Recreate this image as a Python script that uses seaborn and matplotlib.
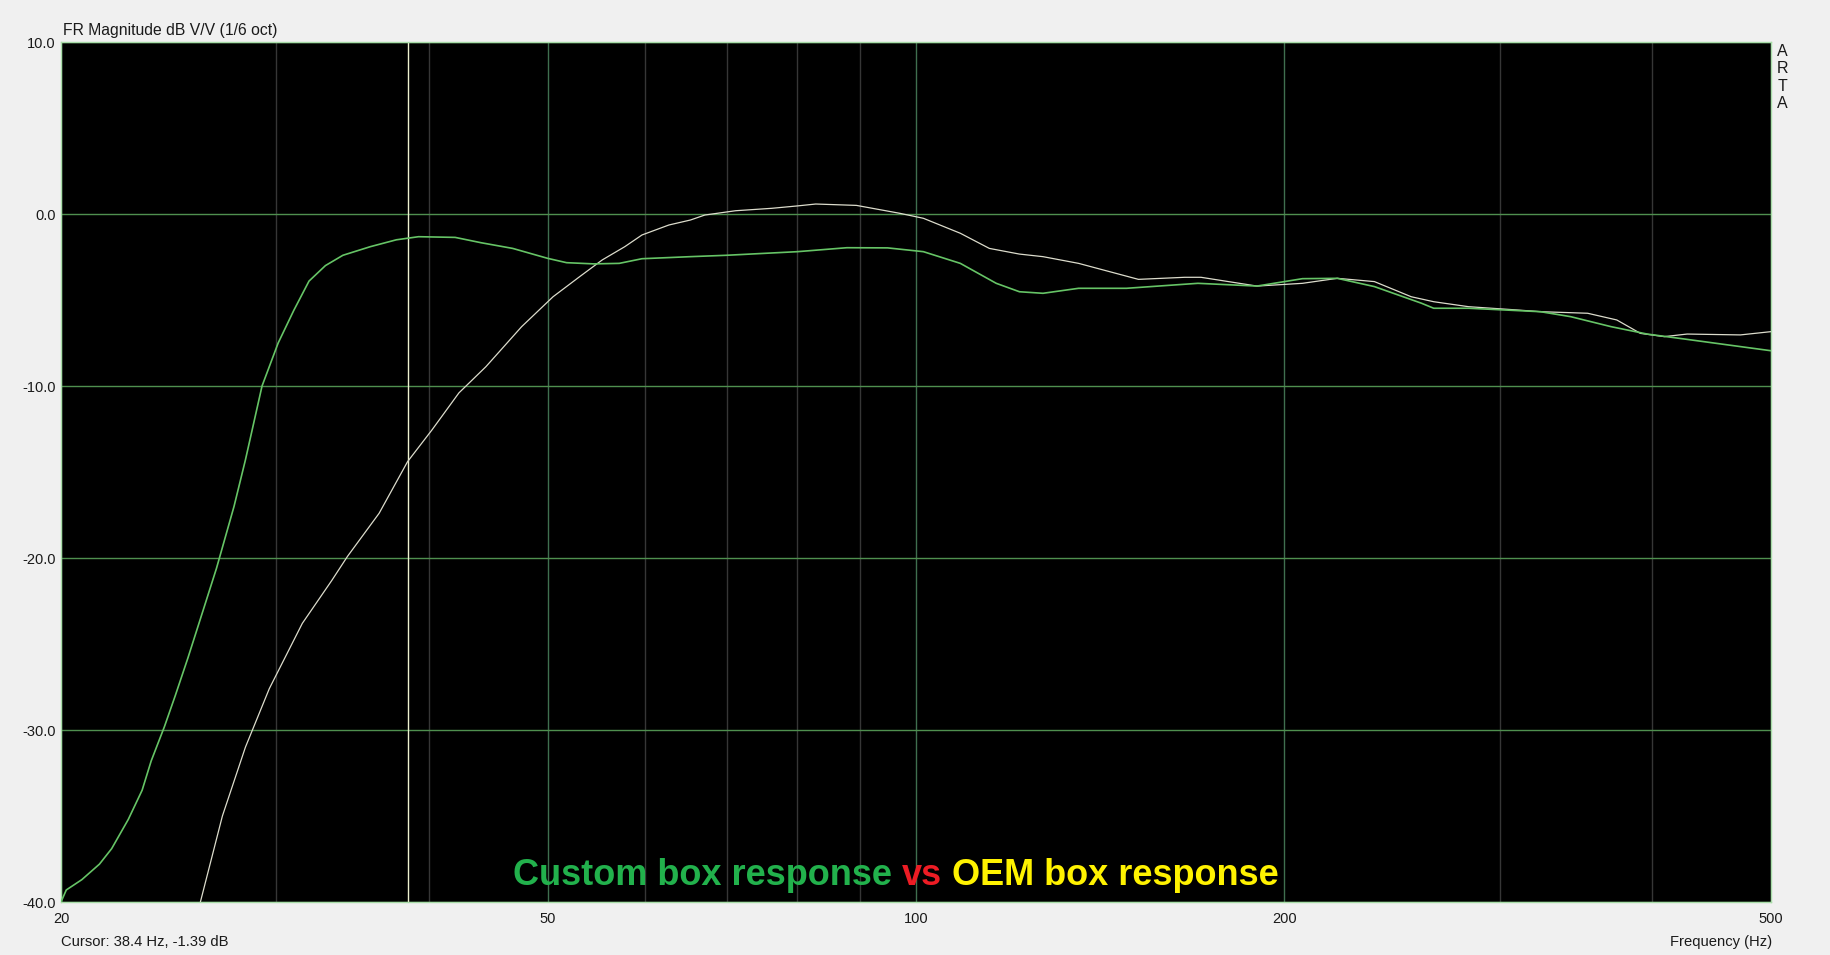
import matplotlib
matplotlib.use("Agg")
import matplotlib.pyplot as plt
import seaborn as sns
from matplotlib.ticker import FixedLocator, FixedFormatter, NullFormatter

# ------------------------------
# data (1/6 oct smoothed)
# ------------------------------
custom_freq = [20, 20.2, 20.8, 21.5, 22.0, 22.7, 23.3, 23.7, 24.3, 24.8, 25.4, 26.2, 26.8,
               27.7, 28.3, 29.2, 30.1, 31.0, 31.9, 32.9, 34.0, 35.8, 37.6, 39.2, 42.0,
               44.1, 46.8, 50.0, 51.8, 54.5, 57.2, 59.7, 65.4, 70.0, 80.0, 87.8, 94.8,
               101.4, 108.7, 116.3, 121.5, 127, 135.8, 148.6, 170, 190, 207, 221, 237,
               259, 265, 283, 324, 343, 370, 396, 427, 462, 500]
custom_db = [-40.0, -39.3, -38.7, -37.8, -36.9, -35.2, -33.5, -31.8, -29.8, -28.0, -25.8, -22.8, -20.6,
             -17.0, -14.3, -10.0, -7.5, -5.6, -3.9, -3.0, -2.4, -1.9, -1.5, -1.32, -1.36,
             -1.67, -2.0, -2.58, -2.83, -2.9, -2.87, -2.6, -2.48, -2.4, -2.19, -1.96, -1.97,
             -2.19, -2.87, -4.03, -4.52, -4.61, -4.32, -4.32, -4.03, -4.19, -3.76, -3.74, -4.22,
             -5.19, -5.48, -5.48, -5.68, -5.97, -6.55, -6.98, -7.29, -7.62, -7.95]

oem_freq = [26.0, 27.1, 28.3, 29.6, 31.5, 33.3, 34.3, 36.4, 38.4, 40.2, 42.3, 44.5, 47.6,
            50.5, 53.1, 55.4, 57.8, 59.7, 62.8, 65.4, 67.2, 71.2, 76.2, 80, 82.8, 89.4, 97,
            101.4, 108.7, 114.8, 121.5, 127, 135.8, 152, 165.8, 171, 190, 207, 221, 237,
            254, 265, 283, 310, 324, 354, 374, 391, 409, 427, 472, 500]
oem_db = [-40.0, -35.0, -31.0, -27.6, -23.8, -21.3, -19.9, -17.4, -14.4, -12.56, -10.4, -8.88, -6.55,
          -4.81, -3.64, -2.67, -1.90, -1.22, -0.64, -0.35, -0.06, 0.19, 0.33, 0.47, 0.58, 0.5, 0.04,
          -0.25, -1.12, -2.0, -2.33, -2.48, -2.87, -3.8, -3.68, -3.68, -4.19, -4.03, -3.74, -3.93,
          -4.81, -5.1, -5.39, -5.58, -5.68, -5.77, -6.16, -6.94, -7.13, -6.98, -7.03, -6.84]

cursor_freq = 38.4
cursor_db = -1.39
x_major = [20, 50, 100, 200, 500]
x_minor = [30, 40, 60, 70, 80, 90, 300, 400]
y_ticks = [10, 0, -10, -20, -30, -40]

# ------------------------------
# figure
# ------------------------------
sns.set_style("dark")
plt.rcParams['font.family'] = ['Liberation Sans', 'DejaVu Sans']

W, H = 1830, 955
fig = plt.figure(figsize=(W / 100, H / 100), dpi=100, facecolor='#f0f0f0')
ax = fig.add_axes([61 / W, 53 / H, 1710 / W, 860 / H])
ax.set_facecolor('black')

ax.set_xscale('log')
ax.set_xlim(20, 500)
ax.set_ylim(-40, 10)

ax.xaxis.set_major_locator(FixedLocator(x_major))
ax.xaxis.set_major_formatter(FixedFormatter([str(v) for v in x_major]))
ax.xaxis.set_minor_locator(FixedLocator(x_minor))
ax.xaxis.set_minor_formatter(NullFormatter())
ax.set_yticks(y_ticks)
ax.set_yticklabels([f"{v:.1f}" for v in y_ticks])

ax.grid(False)
ax.grid(which='major', axis='y', color='#4f8f4f', linewidth=1.0)
ax.grid(which='major', axis='x', color='#3f6f4f', linewidth=1.0)
ax.grid(which='minor', axis='x', color='#363636', linewidth=1.0)
ax.tick_params(which='both', length=0, labelsize=10.5, colors='#1a1a1a')
ax.tick_params(axis='x', pad=7)
ax.tick_params(axis='y', pad=4)

for s in ax.spines.values():
    s.set_visible(True)
    s.set_color('#a8dca8')
    s.set_linewidth(1.0)

# cursor
ax.axvline(cursor_freq, color='#eef2d0', linewidth=1.0, zorder=2)

# curves
sns.lineplot(x=oem_freq, y=oem_db, ax=ax, color='#dcdccc', linewidth=0.9,
             estimator=None, sort=False, zorder=3)
sns.lineplot(x=custom_freq, y=custom_db, ax=ax, color='#66c466', linewidth=1.2,
             estimator=None, sort=False, zorder=4)
ax.set_xlabel("")
ax.set_ylabel("")

# header / footer texts
fig.text(63 / W, 1 - 31 / H, "FR Magnitude dB V/V (1/6 oct)", va='center', fontsize=11.3, color='#1a1a1a')
fig.text(1782 / W, 1 - 44 / H, "A\nR\nT\nA", ha='center', va='top', fontsize=11.5,
         linespacing=1.2, color='#1a1a1a')
fig.text(61 / W, 1 - 942 / H, f"Cursor: {cursor_freq} Hz, {cursor_db} dB", va='center',
         fontsize=10.6, color='#1a1a1a')
fig.text(1772 / W, 1 - 942 / H, "Frequency (Hz)", ha='right', va='center', fontsize=10.6, color='#1a1a1a')

# coloured caption inside the plot
renderer = fig.canvas.get_renderer()
parts = [("Custom box response", '#22b14c'), ("vs", '#ed1c24'), ("OEM box response", '#fff200')]
cap_font = dict(fontsize=26, fontweight='bold', family=['Liberation Sans'])
probe1 = fig.text(0, 0, "aa", **cap_font)
probe2 = fig.text(0, 0, "a a", **cap_font)
space = probe2.get_window_extent(renderer).width - probe1.get_window_extent(renderer).width
probe1.remove()
probe2.remove()

x_px = 513
y_fig = 1 - 885 / H
for txt, col in parts:
    t = fig.text(x_px / W, y_fig, txt, color=col, va='baseline', **cap_font)
    x_px += t.get_window_extent(renderer).width + space

fig.savefig("out.png", dpi=100, facecolor=fig.get_facecolor())
